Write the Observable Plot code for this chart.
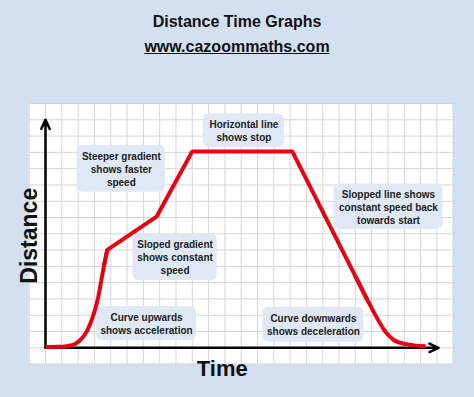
<!DOCTYPE html>
<html>
<head>
<meta charset="utf-8">
<script src="https://cdn.jsdelivr.net/npm/d3@7"></script>
<script src="https://cdn.jsdelivr.net/npm/@observablehq/plot@0.6"></script>
<style>
  html, body { margin: 0; padding: 0; }
  body { width: 474px; height: 397px; background: #d2e0f2; overflow: hidden; font-family: Arial, "Liberation Sans", sans-serif; }
  #header { position: relative; height: 70px; }
  #title, #url { position: absolute; left: 0; width: 474px; text-align: center; font-weight: bold; font-size: 16px; line-height: 18px; color: #111; }
  #title { top: 13px; }
  #url { top: 38px; text-decoration: underline; }
  #chart svg { display: block; }
</style>
</head>
<body>
<div id="header">
  <div id="title">Distance Time Graphs</div>
  <div id="url">www.cazoommaths.com</div>
</div>
<div id="chart"></div>
<script>
// Journey (grid units): accelerating start, steady / stop / return, decelerating finish
const accelTime = [0, 0.8, 1.3, 1.84, 2.2, 2.56, 2.96, 3.23, 3.42, 3.58, 3.79];
const accelDist = [0.05, 0.06, 0.1, 0.25, 0.55, 1.06, 2.09, 3.1, 4.13, 5.0, 6.01];
const steadyTime = [3.58, 3.79, 6.81, 9.0, 15.13, 17.48, 19.0, 19.7];
const steadyDist = [5.0, 6.01, 8.05, 12.06, 12.06, 7.41, 4.4, 3.01];
const decelTime = [19.0, 19.7, 20.1, 20.4, 20.7, 21.0, 21.4, 21.98, 22.6, 23.31];
const decelDist = [4.4, 3.01, 2.25, 1.7, 1.2, 0.8, 0.45, 0.25, 0.15, 0.1];

// Grid lines
const gridX = d3.range(-1, 26);
const gridY = d3.range(-1, 16);

// Annotations
const noteText = [
  "Steeper gradient\nshows faster\nspeed",
  "Sloped gradient\nshows constant\nspeed",
  "Curve upwards\nshows acceleration",
  "Horizontal line\nshows stop",
  "Slopped line shows\nconstant speed back\ntowards start",
  "Curve downwards\nshows deceleration"
];
const noteX1 = [1.94, 5.36, 3.13, 9.67, 17.69, 13.33];
const noteX2 = [7.36, 10.53, 9.26, 14.66, 24.37, 19.53];
const noteY1 = [9.55, 4.13, 0.45, 12.31, 7.26, 0.34];
const noteY2 = [12.42, 6.99, 2.53, 14.36, 10.06, 2.49];

const pts = (ts, ds) => ts.map((t, i) => ({t, d: ds[i]}));
const accel = pts(accelTime, accelDist);
const steady = pts(steadyTime, steadyDist);
const decel = pts(decelTime, decelDist);
const notes = noteText.map((text, i) => ({
  text, x1: noteX1[i], x2: noteX2[i], y1: noteY1[i], y2: noteY2[i],
  cx: (noteX1[i] + noteX2[i]) / 2, cy: (noteY1[i] + noteY2[i]) / 2
}));

const red = "#e60012";
const lineOpts = {x: "t", y: "d", stroke: red, strokeWidth: 4, strokeLinecap: "butt", strokeLinejoin: "miter"};

const chart = Plot.plot({
  width: 474,
  height: 327,
  marginLeft: 28.7,
  marginRight: 21.3,
  marginTop: 33,
  marginBottom: 33.4,
  x: {domain: [-1, 25], axis: null},
  y: {domain: [-1, 15], axis: null},
  style: {background: "transparent", fontFamily: "Arial, 'Liberation Sans', sans-serif", overflow: "visible"},
  marks: [
    Plot.rect([0], {x1: -1, x2: 25, y1: -1, y2: 15, fill: "white"}),
    Plot.ruleX(gridX, {x: d => d, y1: -1, y2: 15, stroke: "#d6d6d6", strokeWidth: 1}),
    Plot.ruleY(gridY, {y: d => d, x1: -1, x2: 25, stroke: "#d6d6d6", strokeWidth: 1}),
    Plot.rect(notes, {x1: "x1", x2: "x2", y1: "y1", y2: "y2", fill: "#dfe8f4", rx: 6}),
    Plot.arrow([0], {x1: 0, y1: 0, x2: 0, y2: 14.0, stroke: "black", strokeWidth: 2.5, headLength: 6, headAngle: 50}),
    Plot.arrow([0], {x1: 0, y1: 0, x2: 24.1, y2: 0, stroke: "black", strokeWidth: 2.5, headLength: 6, headAngle: 50}),
    Plot.line(accel, {...lineOpts, curve: "monotone-x"}),
    Plot.line(steady, {...lineOpts, curve: "linear"}),
    Plot.line(decel, {...lineOpts, curve: "monotone-x"}),
    Plot.text(notes, {x: "cx", y: "cy", text: "text", fontSize: 10, fontWeight: "bold", fill: "#222", lineHeight: 1.3}),
    Plot.text(["Time"], {x: 10.84, y: -1.31, text: d => d, fontSize: 22, fontWeight: "bold", fill: "#111"}),
    Plot.text(["Distance"], {x: -0.95, y: 6.88, text: d => d, fontSize: 23, fontWeight: "bold", fill: "#111", rotate: -90})
  ]
});
document.getElementById("chart").appendChild(chart);
</script>
</body>
</html>
